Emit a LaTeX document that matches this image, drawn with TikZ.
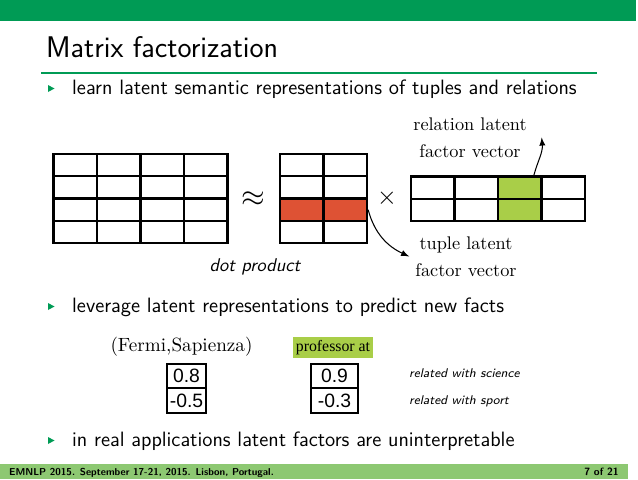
\documentclass[tikz,border=0pt]{standalone}
\usepackage{fontspec}
\usepackage{xcolor}
\usepackage{tikz}
\usetikzlibrary{positioning}
\newfontfamily\helvfont{Liberation Sans}
\newfontfamily\timesfont{Liberation Serif}
\definecolor{bargreen}{HTML}{009B55}
\definecolor{footgreen}{HTML}{8DC872}
\definecolor{tuplered}{HTML}{DE5234}
\definecolor{relgreen}{HTML}{A9CE48}

\begin{document}
\begin{tikzpicture}[
    x=0.5687pt, y=-0.5687pt,
    cell/.style={draw, line width=1.3pt, minimum width=24.74pt, minimum height=12.68pt, inner sep=0pt},
    vecbox/.style={draw, line width=1.3pt, inner sep=0pt, minimum height=13.9pt, font=\helvfont\fontsize{11}{11}\selectfont},
    lbl/.style={align=center, font=\fontsize{10.4}{15.4}\selectfont},
    note/.style={anchor=west, font=\sffamily\itshape\fontsize{7.2}{8}\selectfont},
    item/.style={anchor=base west, font=\sffamily\fontsize{11.8}{13}\selectfont},
    arrow/.style={-latex, semithick},
  ]
    \useasboundingbox (0,0) rectangle (638,479);
    % slide frame
    \fill[bargreen] (0,0) rectangle (636,21);
    \fill[footgreen] (0,464) rectangle (628,479);
    \node[anchor=base west, font=\sffamily\fontsize{17}{19}\selectfont] (title) at (40,57) {Matrix factorization};
    \draw[bargreen, line width=0.7pt] (41,73) -- (597,73);

    % bullets
    \foreach \y in {94,312,446}
      \fill[bargreen] (48,\y-9) -- (54.5,\y-5.5) -- (48,\y-2) -- cycle;
    \node[item] (item1) at (66,94) {learn latent semantic representations of tuples and relations};
    \node[item] (item2) at (66,312) {leverage latent representations to predict new facts};
    \node[item] (item3) at (66,446) {in real applications latent factors are uninterpretable};

    % matrices
    \foreach \r in {1,...,4}
      \foreach \c in {1,...,4}
        \node[cell] (X-\r-\c) at ({53.5+43.5*(\c-0.5)},{154+22.3*(\r-0.5)}) {};
    \foreach \r in {1,...,4}
      \foreach \c in {1,2}
        \node[cell] (T-\r-\c) at ({280+43.5*(\c-0.5)},{154+22.3*(\r-0.5)}) {};
    \foreach \c in {1,2}
      \node[cell, fill=tuplered] (T-3-\c) at ({280+43.5*(\c-0.5)},{154+22.3*2.5}) {};
    \foreach \r in {1,2}
      \foreach \c in {1,...,4}
        \node[cell] (R-\r-\c) at ({411+43.5*(\c-0.5)},{176.5+22.3*(\r-0.5)}) {};
    \foreach \r in {1,2}
      \node[cell, fill=relgreen] (R-\r-3) at ({411+43.5*2.5},{176.5+22.3*(\r-0.5)}) {};

    \node[font=\fontsize{17}{17}\selectfont] (approx) at (253,199) {$\approx$};
    \node[font=\fontsize{15}{15}\selectfont] (prod) at (387,198) {$\times$};
    \node[font=\sffamily\itshape\fontsize{10.5}{12}\selectfont] (dot) at (255,267) {dot product};

    \node[lbl] (rellbl) at (470,137.5) {relation latent\\factor vector};
    \node[lbl] (tuplbl) at (466,256.5) {tuple latent\\factor vector};
    \coordinate[right=5pt of rellbl.east] (reltip);
    \draw[arrow] ([xshift=-5pt]R-1-3.north east) to[out=75, in=-85] (reltip);
    \draw[arrow] (T-3-2.east) to[out=-75, in=155] (tuplbl.west);

    % example vectors
    \node[font=\fontsize{10.9}{12}\selectfont] (tuple) at (181.5,347) {(Fermi,Sapienza)};
    \node[vecbox, minimum width=22.2pt] (t1) at (186.5,376) {0.8};
    \node[vecbox, minimum width=22.2pt] (t2) at (186.5,400.5) {-0.5};
    \node[fill=relgreen, inner sep=1.8pt, minimum height=10.8pt, font=\timesfont\fontsize{9}{10}\selectfont] (rel) at (333,347.5) {professor at};
    \node[vecbox, minimum width=26.7pt] (r1) at (334.5,376) {0.9};
    \node[vecbox, minimum width=26.7pt] (r2) at (334.5,400.5) {-0.3};
    \node[note] (sci) at (403,373) {related with science};
    \node[note] (sport) at (403,401) {related with sport};

    % footer
    \node[anchor=base west, font=\sffamily\bfseries\fontsize{5.7}{7}\selectfont] (foot) at (3,475) {EMNLP 2015. September 17-21, 2015. Lisbon, Portugal.};
    \node[anchor=base east, font=\sffamily\bfseries\fontsize{6}{7}\selectfont] (page) at (625,475) {7 of 21};
\end{tikzpicture}
\end{document}
